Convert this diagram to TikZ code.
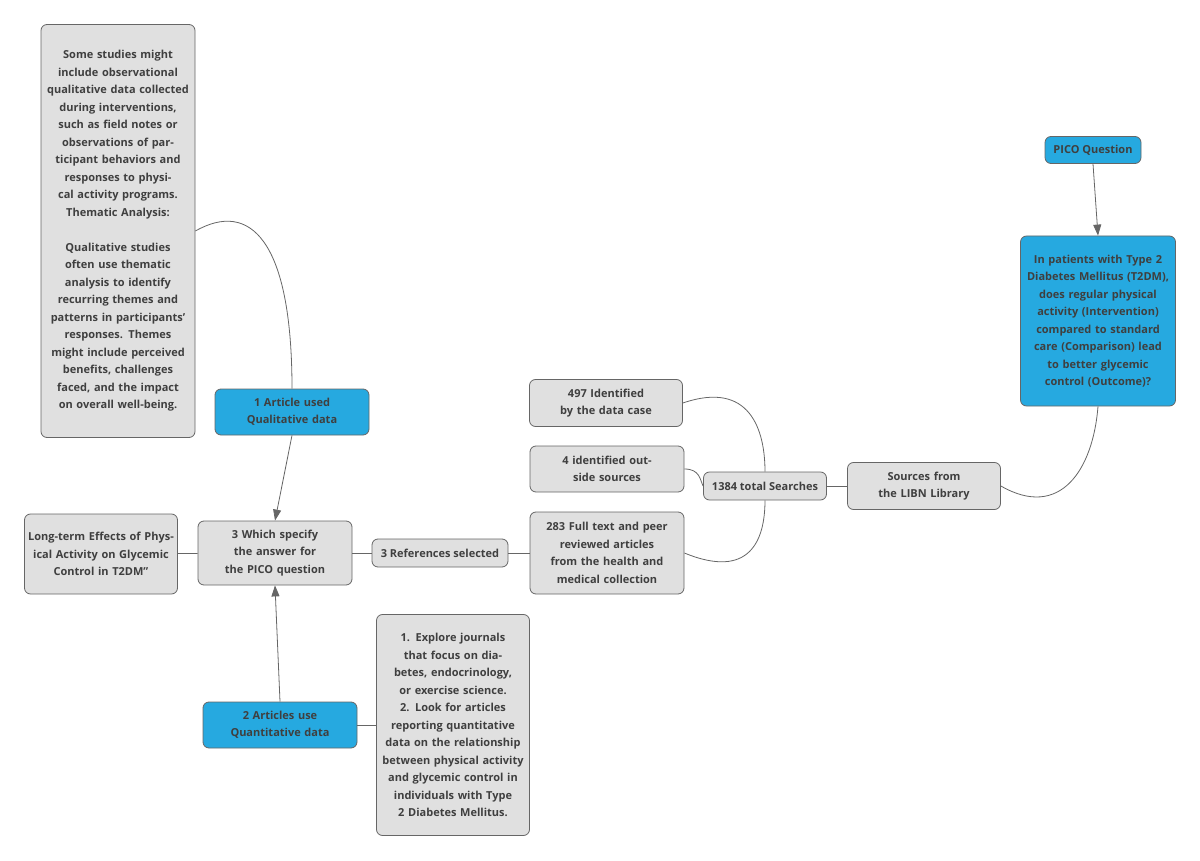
\documentclass[tikz,border=0pt]{standalone}
\usepackage{fontspec}
\setmainfont{Open Sans}[UprightFont=* Semibold, BoldFont=* Bold]
\usetikzlibrary{arrows.meta}
\definecolor{gfill}{HTML}{E0E0E0}
\definecolor{bfill}{HTML}{26A9E0}
\definecolor{edge}{HTML}{666666}
\definecolor{txt}{HTML}{3F3F3F}
\begin{document}
\begin{tikzpicture}[x=1pt,y=-1pt,
 box/.style={draw=edge,line width=0.8pt,rounded corners=6pt,fill=gfill,align=center,text=txt,
   font=\fontsize{11}{17.5}\selectfont\bfseries,inner sep=0pt,minimum width=#1},
 bbox/.style={box=#1,fill=bfill},
 con/.style={draw=edge,line width=0.8pt},
 arr/.style={con,-{Triangle[length=11pt,width=8pt]}}]
\useasboundingbox (0,0) rectangle (1200,861);
\node[box=154pt,minimum height=413pt,text width=146pt] (A) at (118,231) {Some studies might include observational qualitative data collected during interventions, such as field notes or observations of participant behaviors and responses to physical activity programs.\\Thematic Analysis:\\[17.5pt]Qualitative studies often use thematic analysis to identify recurring themes and patterns in participants' responses. Themes might include perceived benefits, challenges faced, and the impact on overall well-being.};
\node[bbox=154pt,minimum height=46pt,text width=146pt] (Q1) at (292,412) {1 Article used\\Qualitative data};
\node[box=153pt,minimum height=80pt,text width=146pt] (LT) at (101,554) {Long-term Effects of Physical Activity on Glycemic Control in T2DM"};
\node[box=154pt,minimum height=64pt,text width=146pt] (N3) at (275,553) {3 Which specify the answer for the PICO question};
\node[box=136pt,minimum height=28pt] (R) at (440,553) {3 References selected};
\node[bbox=154pt,minimum height=46pt,text width=146pt] (Q2) at (280,725) {2 Articles use\\Quantitative data};
\node[box=153pt,minimum height=221pt,text width=145pt] (E) at (453,725) {1. Explore journals that focus on diabetes, endocrinology, or exercise science.\\2. Look for articles reporting quantitative data on the relationship between physical activity and glycemic control in individuals with Type 2 Diabetes Mellitus.};
\node[box=153pt,minimum height=47pt,text width=140pt] (S1) at (606,403) {497 Identified by the data case};
\node[box=154pt,minimum height=46pt,text width=140pt] (S2) at (607,469) {4 identified outside sources};
\node[box=154pt,minimum height=82pt,text width=146pt] (S3) at (607,553) {283 Full text and peer reviewed articles from the health and medical collection};
\node[box=123pt,minimum height=28pt] (T) at (765,486) {1384 total Searches};
\node[box=153pt,minimum height=47pt,text width=146pt] (L) at (924,486) {Sources from the LIBN Library};
\node[bbox=96pt,minimum height=27pt] (PQ) at (1093,150) {PICO Question};
\node[bbox=155pt,minimum height=170pt,text width=146pt] (P) at (1098,321) {In patients with Type 2 Diabetes Mellitus (T2DM), does regular physical activity (Intervention) compared to standard care (Comparison) lead to better glycemic control (Outcome)?};
\begin{scope}[on background layer/.style={}]
\end{scope}
\draw[con] (A.east) .. controls (250,200) and (292,240) .. (Q1.north);
\draw[arr] (Q1.south) -- (N3.north);
\draw[con] (LT) -- (N3);
\draw[con] (N3) -- (R);
\draw[con] (R) -- (S3);
\draw[arr] (Q2.north) -- (N3.south);
\draw[con] (Q2) -- (E);
\draw[con] (S1.east) .. controls (750,380) and (765,430) .. (T.north);
\draw[con] (S2.east) .. controls (700,469) and (700,480) .. (T.west);
\draw[con] (S3.east) .. controls (750,580) and (765,540) .. (T.south);
\draw[con] (T) -- (L);
\draw[con] (L.east) .. controls (1060,520) and (1093,470) .. (P.south);
\draw[arr] (PQ.south) -- (P.north);
\end{tikzpicture}
\end{document}
